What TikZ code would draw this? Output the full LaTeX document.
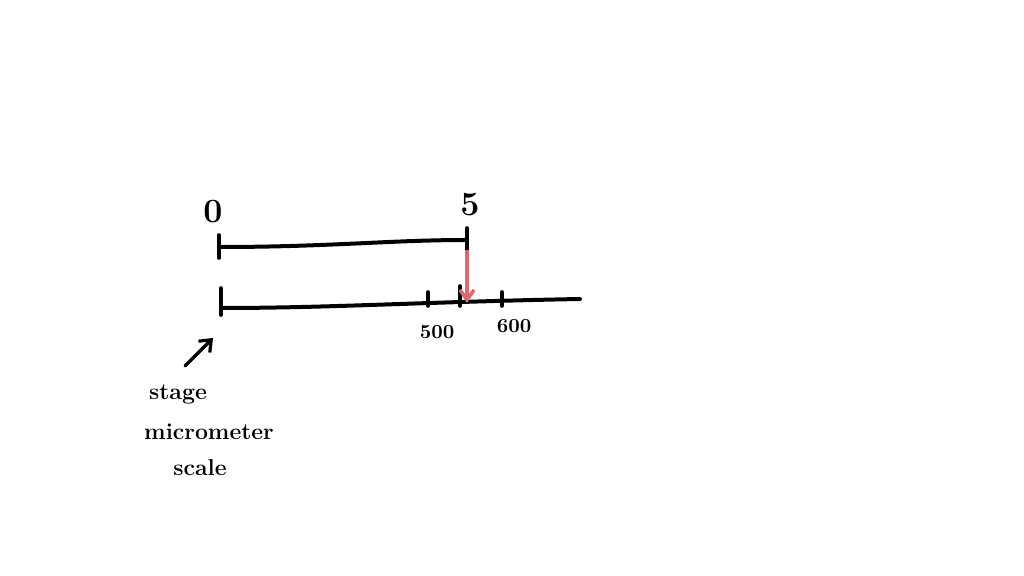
\documentclass[tikz,border=0pt]{standalone}
\usetikzlibrary{arrows.meta}
\definecolor{pencilred}{RGB}{222,104,112}
\tikzset{
  ink/.style={line width=2pt, line cap=round, black},
  tick/.style={line width=1.8pt, line cap=round, black},
  bignum/.style={font=\fontsize{17}{20}\selectfont\bfseries},
  smallnum/.style={font=\fontsize{10}{12}\selectfont\bfseries},
  note/.style={font=\fontsize{11.5}{14}\selectfont\bfseries}
}
\begin{document}
\begin{tikzpicture}[x=0.5pt,y=-0.5pt]

\useasboundingbox (0,0) rectangle (1024,576);

% eyepiece scale
\begin{scope}
 \coordinate (e0) at (219,247);
 \coordinate (e5) at (467,240);
 \draw[ink] (e0) .. controls (330,247) and (390,240) .. (e5);
 \draw[tick] (219,235) -- (219,258);
 \draw[tick] (467,228) -- (467,250);
 \node[bignum] (zero) at (213,212) {0};
 \node[bignum] (five) at (470,205) {5};
\end{scope}

% stage micrometer scale
\begin{scope}
 \coordinate (s0) at (221,308);
 \coordinate (send) at (580,299);
 \draw[ink] (s0) .. controls (330,308) and (420,302) .. (send);
 \draw[tick] (221,288) -- (221,315);
 \foreach \x/\top in {428/292,460/286,502/292}{%
    \draw[tick] (\x,\top) -- (\x,306);
 }
 \node[smallnum] (fivehundred) at (437,332) {500};
 \node[smallnum] (sixhundred) at (514,326) {600};
\end{scope}

% where the 5 falls
\coordinate (mark) at (467,250);
\coordinate (hit) at (467,303);
\draw[line width=1.8pt, pencilred, -{Straight Barb[length=5pt,width=7pt]}] (mark) -- (hit);

% label
\node[note] (stage) at (178,395) {stage};
\node[note] (micro) at (209,432) {micrometer};
\node[note] (scale) at (200,468) {scale};
\coordinate (tip) at (213,338);
\draw[ink, line width=1.6pt, -{Straight Barb[length=5pt,width=8pt]}] (185,366) -- (tip);

\end{tikzpicture}
\end{document}
